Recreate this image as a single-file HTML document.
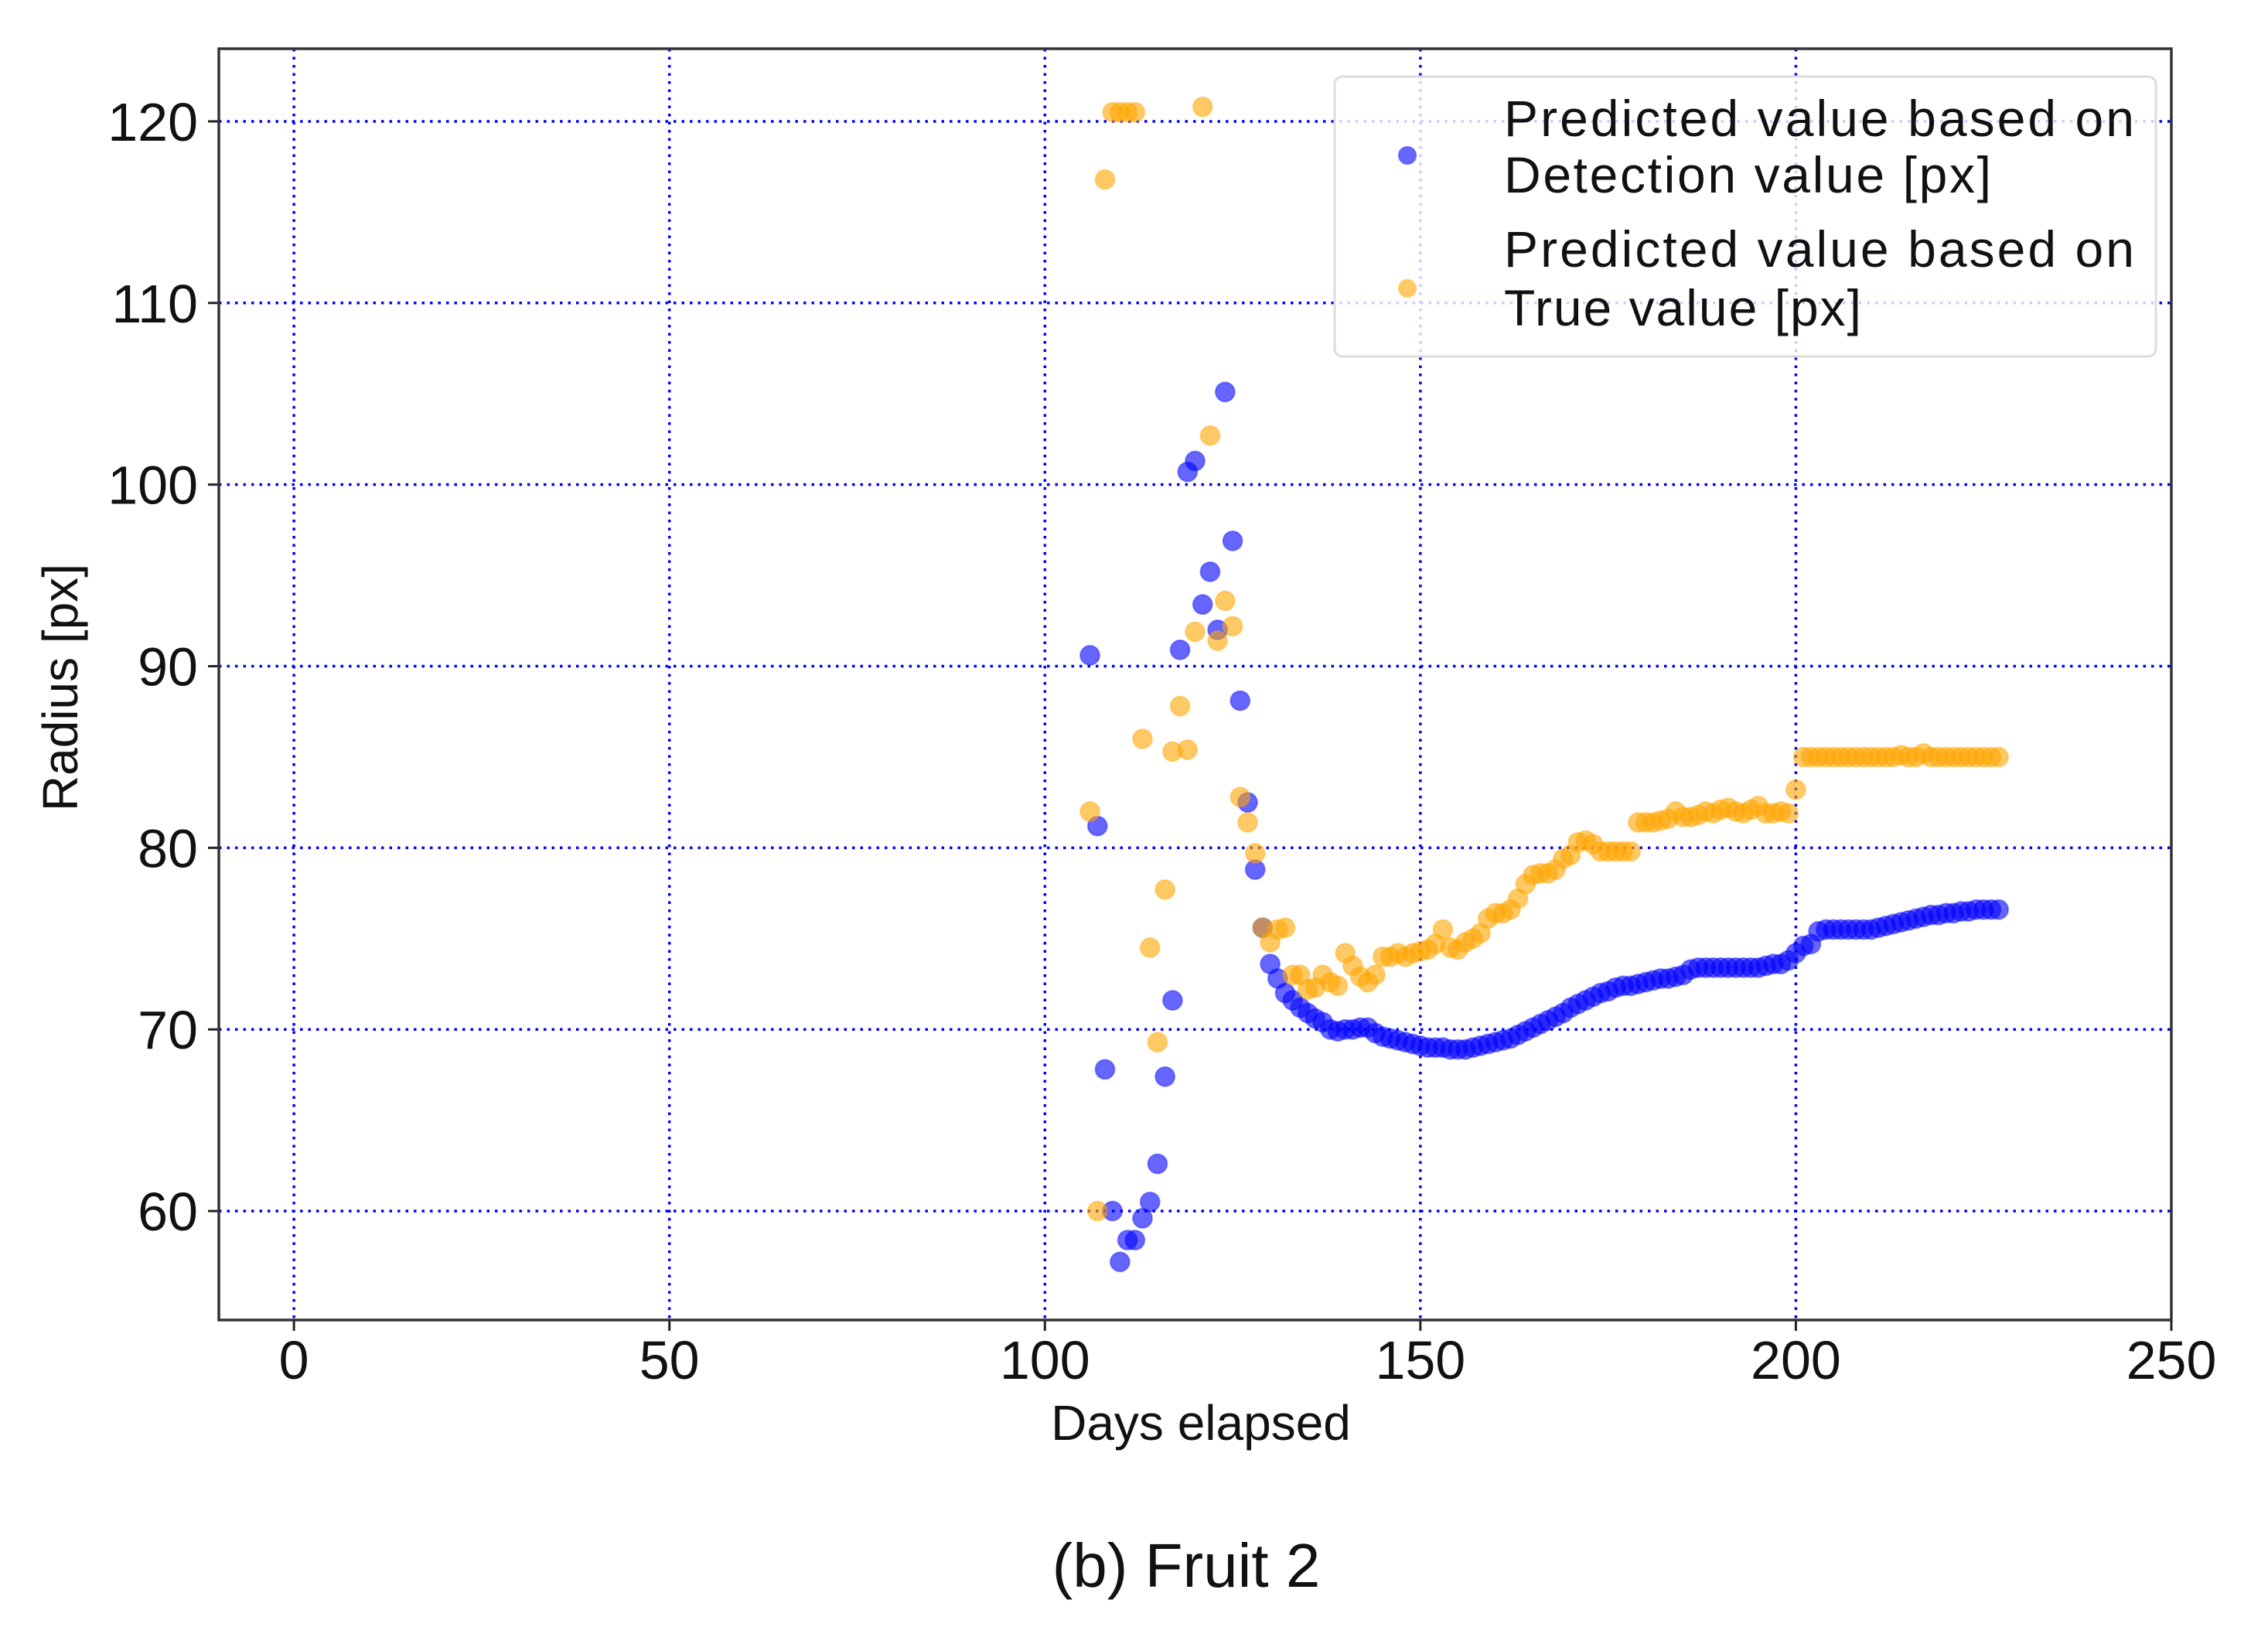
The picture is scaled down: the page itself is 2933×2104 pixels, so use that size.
<!DOCTYPE html>
<html><head><meta charset="utf-8"><title>Fruit 2 radius</title>
<style>html,body{margin:0;padding:0;background:#fff}svg{display:block}text{font-family:"Liberation Sans",sans-serif;fill:#111}</style>
</head><body>
<svg id="chart" width="2933" height="2104" viewBox="0 0 2933 2104" xmlns="http://www.w3.org/2000/svg">
<rect x="0" y="0" width="2933" height="2104" fill="#fff"/>
<g id="grid"></g>
<g id="marks"></g>
<g id="axes"></g>
<g id="legend">
<rect x="1726" y="99" width="1062" height="362" rx="10" fill="#fff" fill-opacity="0.8" stroke="#ddd" stroke-width="3"/>
<circle cx="1820" cy="201" r="12" fill="#0000ff" fill-opacity="0.6"/>
<text x="1945" y="176" font-size="66" textLength="815">Predicted value based on</text>
<text x="1945" y="249" font-size="66" textLength="630">Detection value [px]</text>
<circle cx="1820" cy="373" r="12" fill="#ffa500" fill-opacity="0.6"/>
<text x="1945" y="345" font-size="66" textLength="815">Predicted value based on</text>
<text x="1945" y="421" font-size="66" textLength="462">True value [px]</text>
</g>
<text x="1553" y="1862" font-size="64" text-anchor="middle">Days elapsed</text>
<text transform="translate(100,889) rotate(-90)" font-size="64" text-anchor="middle">Radius [px]</text>
<text x="1534" y="2052" font-size="80" text-anchor="middle">(b) Fruit 2</text>
</svg>
<script>
const xTicks = [0, 50, 100, 150, 200, 250];
const yTicks = [60, 70, 80, 90, 100, 110, 120];
const detDays = [106,107,108,109,110,111,112,113,114,115,116,117,118,119,120,121,122,123,124,125,126,127,128,129,130,131,132,133,134,135,136,137,138,139,140,141,142,143,144,145,146,147,148,149,150,151,152,153,154,155,156,157,158,159,160,161,162,163,164,165,166,167,168,169,170,171,172,173,174,175,176,177,178,179,180,181,182,183,184,185,186,187,188,189,190,191,192,193,194,195,196,197,198,199,200,201,202,203,204,205,206,207,208,209,210,211,212,213,214,215,216,217,218,219,220,221,222,223,224,225,226,227];
const detValues = [90.6,81.2,67.8,60.0,57.2,58.4,58.4,59.6,60.5,62.6,67.4,71.6,90.9,100.7,101.3,93.4,95.2,92.0,105.1,96.9,88.1,82.5,78.8,75.6,73.6,72.8,72.0,71.6,71.2,70.9,70.6,70.4,70.0,69.9,70.0,70.0,70.1,70.1,69.8,69.6,69.5,69.4,69.3,69.2,69.1,69.0,69.0,69.0,68.9,68.9,68.9,69.0,69.1,69.2,69.3,69.4,69.5,69.7,69.9,70.1,70.3,70.5,70.7,70.9,71.2,71.4,71.6,71.8,72.0,72.1,72.3,72.4,72.4,72.5,72.6,72.7,72.8,72.8,72.9,73.0,73.3,73.4,73.4,73.4,73.4,73.4,73.4,73.4,73.4,73.4,73.5,73.6,73.6,73.8,74.2,74.6,74.7,75.4,75.5,75.5,75.5,75.5,75.5,75.5,75.5,75.6,75.7,75.8,75.9,76.0,76.1,76.2,76.3,76.3,76.4,76.4,76.5,76.5,76.6,76.6,76.6,76.6];
const trueDays = [106,107,108,109,110,111,112,113,114,115,116,117,118,119,120,121,122,123,124,125,126,127,128,129,130,131,132,133,134,135,136,137,138,139,140,141,142,143,144,145,146,147,148,149,150,151,152,153,154,155,156,157,158,159,160,161,162,163,164,165,166,167,168,169,170,171,172,173,174,175,176,177,178,179,180,181,182,183,184,185,186,187,188,189,190,191,192,193,194,195,196,197,198,199,200,201,202,203,204,205,206,207,208,209,210,211,212,213,214,215,216,217,218,219,220,221,222,223,224,225,226,227];
const trueValues = [82.0,60.0,116.8,120.5,120.5,120.5,120.5,86.0,74.5,69.3,77.7,85.3,87.8,85.4,91.9,120.8,102.7,91.4,93.6,92.2,82.8,81.4,79.7,75.6,74.8,75.5,75.6,73.0,73.0,72.2,72.3,73.0,72.6,72.4,74.2,73.5,72.9,72.6,73.0,74.0,74.0,74.2,74.0,74.2,74.3,74.4,74.7,75.5,74.5,74.4,74.8,75.0,75.3,76.1,76.4,76.4,76.6,77.2,78.0,78.5,78.6,78.6,78.8,79.4,79.6,80.3,80.4,80.2,79.8,79.8,79.8,79.8,79.8,81.4,81.4,81.4,81.5,81.6,82.0,81.7,81.7,81.8,82.0,81.9,82.1,82.2,82.0,81.9,82.1,82.3,81.9,81.9,82.0,81.9,83.2,85.0,85.0,85.0,85.0,85.0,85.0,85.0,85.0,85.0,85.0,85.0,85.0,85.0,85.1,85.0,85.0,85.2,85.0,85.0,85.0,85.0,85.0,85.0,85.0,85.0,85.0,85.0];

const NS = "http://www.w3.org/2000/svg";
const L = 283, R = 2808, T = 63, B = 1707;
const xMin = -10, xMax = 250, yMin = 54, yMax = 124;
function xs(v){ return L + (v - xMin) / (xMax - xMin) * (R - L); }
function ys(v){ return B - (v - yMin) / (yMax - yMin) * (B - T); }
function mk(tag, attrs, parent){ const e = document.createElementNS(NS, tag); for (const k in attrs) e.setAttribute(k, attrs[k]); parent.appendChild(e); return e; }

const grid = document.getElementById('grid');
const axes = document.getElementById('axes');
const marks = document.getElementById('marks');

xTicks.forEach(t => {
  const x = xs(t);
  if (t < xMax) {
    const g = mk('line', {x1:x, y1:T, x2:x, y2:B, stroke:'#0000ff', 'stroke-width':3.5, 'stroke-dasharray':'3.5 7'}, grid);
    
    
  }
  const tk = mk('line', {x1:x, y1:B, x2:x, y2:B+14, stroke:'#222', 'stroke-width':3}, axes);
  
  
  const lb = mk('text', {x:x, y:1783, 'font-size':70, 'text-anchor':'middle'}, axes);
  lb.textContent = String(t);
  
  
});
yTicks.forEach(t => {
  const y = ys(t);
  const g = mk('line', {x1:L, y1:y, x2:R, y2:y, stroke:'#0000ff', 'stroke-width':3.5, 'stroke-dasharray':'3.5 7'}, grid);
  
  
  const tk = mk('line', {x1:L-14, y1:y, x2:L, y2:y, stroke:'#222', 'stroke-width':3}, axes);
  
  
  const lb = mk('text', {x:256, y:y+25, 'font-size':70, 'text-anchor':'end'}, axes);
  lb.textContent = String(t);
  
  
});
const frame = mk('rect', {x:L, y:T, width:R-L, height:B-T, fill:'none', stroke:'#333', 'stroke-width':3.5}, axes);



detDays.forEach((d, i) => {
  const c = mk('circle', {cx:xs(d), cy:ys(detValues[i]), r:12.5, fill:'#0000ff', 'fill-opacity':0.6, stroke:'#0000ff', 'stroke-opacity':0.35, 'stroke-width':2}, marks);
  
  
});
trueDays.forEach((d, i) => {
  const c = mk('circle', {cx:xs(d), cy:ys(trueValues[i]), r:12.5, fill:'#ffa500', 'fill-opacity':0.6, stroke:'#ffa500', 'stroke-opacity':0.35, 'stroke-width':2}, marks);
  
  
});
</script>
</body></html>
